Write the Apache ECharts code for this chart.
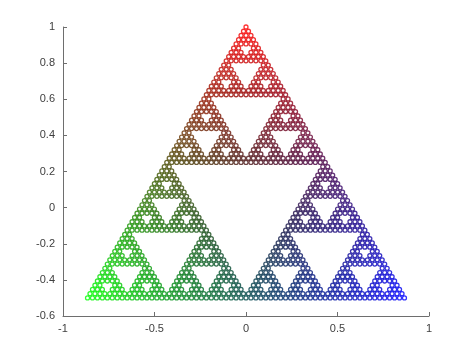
<!DOCTYPE html>
<html>
<head>
<meta charset="utf-8">
<script src="https://cdn.jsdelivr.net/npm/echarts@6/dist/echarts.min.js"></script>
<style>html,body{margin:0;padding:0;background:#fff}#c{width:474px;height:355px}</style>
</head>
<body>
<div id="c"></div>
<script>
// Triangle corners (top = red, bottom-left = green, bottom-right = blue)
const cornerX = [0, -0.866, 0.866];
const cornerY = [1, -0.5, -0.5];
const subdivisionDepth = 6;
const colorGamma = 1.8;
const xTicks = [-1, -0.5, 0, 0.5, 1];
const yTicks = [-0.6, -0.4, -0.2, 0, 0.2, 0.4, 0.6, 0.8, 1];

// Collect vertices of the smallest triangles (barycentric lattice indices)
const N = Math.pow(2, subdivisionDepth);
const seen = new Set();
const pts = [];
function addPt(a, b, c) {
  const k = a + ',' + b;
  if (seen.has(k)) return;
  seen.add(k);
  pts.push([a, b, c]);
}
function tri(a, b, c, s) {
  if (s === 1) {
    addPt(a, b, c);
    addPt(a - 1, b + 1, c);
    addPt(a - 1, b, c + 1);
    return;
  }
  const h = s / 2;
  tri(a, b, c, h);
  tri(a - h, b + h, c, h);
  tri(a - h, b, c + h, h);
}
tri(N, 0, 0, N);

const ch = w => Math.round(Math.pow(w, colorGamma) * 255);
const data = pts.map(p => {
  const wa = p[0] / N, wb = p[1] / N, wc = p[2] / N;
  const x = wa * cornerX[0] + wb * cornerX[1] + wc * cornerX[2];
  const y = wa * cornerY[0] + wb * cornerY[1] + wc * cornerY[2];
  const col = 'rgb(' + ch(wa) + ',' + ch(wb) + ',' + ch(wc) + ')';
  return { value: [x, y], itemStyle: { color: 'rgba(0,0,0,0)', borderColor: col, borderWidth: 1.3 } };
});

const chart = echarts.init(document.getElementById('c'), null, { renderer: 'canvas' });
const axisCommon = {
  axisLine: { show: true, onZero: false, lineStyle: { color: '#6e6e6e', width: 1 } },
  axisTick: { show: true, inside: true, length: 4, lineStyle: { color: '#6e6e6e' } },
  splitLine: { show: false },
  axisLabel: { color: '#404040', fontSize: 11, fontFamily: 'Liberation Sans, Arial, sans-serif' }
};
chart.setOption({
  animation: false,
  grid: { left: 63, right: 45, top: 27, bottom: 39, containLabel: false },
  xAxis: Object.assign({ type: 'value', min: xTicks[0], max: xTicks[xTicks.length - 1], interval: 0.5 }, axisCommon,
    { axisLabel: Object.assign({}, axisCommon.axisLabel, { margin: 7, formatter: v => String(+v.toFixed(2)) }) }),
  yAxis: Object.assign({ type: 'value', min: yTicks[0], max: yTicks[yTicks.length - 1], interval: 0.2 }, axisCommon,
    { axisLabel: Object.assign({}, axisCommon.axisLabel, { margin: 8, formatter: v => String(+v.toFixed(2)) }) }),
  series: [{
    type: 'scatter',
    symbol: 'circle',
    symbolSize: 4,
    large: false,
    data: data
  }]
});
</script>
</body>
</html>
